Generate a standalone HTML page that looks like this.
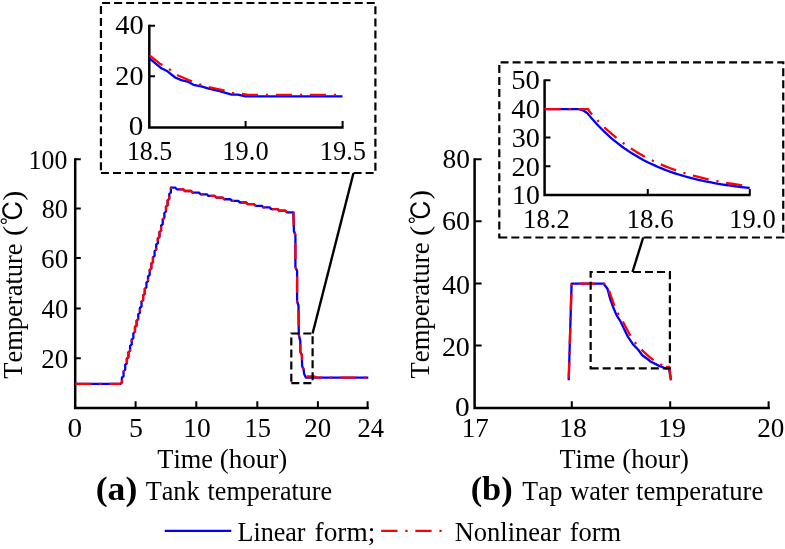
<!DOCTYPE html>
<html><head><meta charset="utf-8"><title>Tank and tap water temperature</title>
<style>
html,body{margin:0;padding:0;background:#fff;}
svg{display:block;}
text{font-family:"Liberation Serif","IPAGothic",serif;font-size:26px;fill:#000;font-kerning:none;}
.ax{stroke:#000;stroke-width:2.5;fill:none;stroke-linecap:butt;stroke-linejoin:miter;}
.tk{stroke:#000;stroke-width:2;fill:none;}
.box{stroke:#000;stroke-width:2.2;fill:none;stroke-dasharray:8 4.03;}
.ln{stroke:#000;stroke-width:2.4;fill:none;}
.b{stroke:#0000ff;stroke-width:2.3;fill:none;stroke-linejoin:round;}
.r{stroke:#ff0000;stroke-width:2.3;fill:none;stroke-dasharray:16.2 7.8 2.2 7.8;stroke-linejoin:round;}
</style></head>
<body>
<svg width="785" height="549" viewBox="0 0 785 549">
<rect width="785" height="549" fill="#fff"/>

<!-- ===== chart (a) ===== -->
<g id="a-axes">
<path class="ax" d="M75.2,158.2 V408 H368.85"/>
<path class="tk" d="M75,159.2H80.8 M75,208.5H80.8 M75,258H80.8 M75,308.5H80.8 M75,358.3H80.8"/>
<path class="tk" d="M135.6,408V401.2 M196.3,408V401.2 M257.3,408V401.2 M317.9,408V401.2 M367.6,408V401.2"/>
</g>

<!-- main curves (a) -->
<path class="b" d="M75.3,383.9 L120.3,383.9 L121.93,382.38 L121.93,377.57 L123.56,376.05 L123.56,371.24 L125.2,369.72 L125.2,364.91 L126.83,363.39 L126.83,358.58 L128.46,357.06 L128.46,352.25 L130.09,350.74 L130.09,345.93 L131.73,344.41 L131.73,339.6 L133.36,338.08 L133.36,333.27 L134.99,331.75 L134.99,326.94 L136.62,325.42 L136.62,320.61 L138.25,319.09 L138.25,314.28 L139.89,312.76 L139.89,307.95 L141.52,306.43 L141.52,301.62 L143.15,300.1 L143.15,295.29 L144.78,293.77 L144.78,288.96 L146.42,287.45 L146.42,282.64 L148.05,281.12 L148.05,276.31 L149.68,274.79 L149.68,269.98 L151.31,268.46 L151.31,263.65 L152.95,262.13 L152.95,257.32 L154.58,255.8 L154.58,250.99 L156.21,249.47 L156.21,244.66 L157.84,243.14 L157.84,238.33 L159.47,236.81 L159.47,232 L161.11,230.48 L161.11,225.67 L162.74,224.16 L162.74,219.35 L164.37,217.83 L164.37,213.02 L166,211.5 L166,206.69 L167.64,205.17 L167.64,200.36 L169.27,198.84 L169.27,194.03 L170.9,192.51 L170.9,187.7 L175.4,187.7 L176.9,189.35 L183.27,189.35 L184.77,190.99 L191.13,190.99 L192.63,192.64 L199,192.64 L200.5,194.29 L206.87,194.29 L208.37,195.93 L214.73,195.93 L216.23,197.58 L222.6,197.58 L224.1,199.23 L230.47,199.23 L231.97,200.87 L238.33,200.87 L239.83,202.52 L246.2,202.52 L247.7,204.17 L254.07,204.17 L255.57,205.81 L261.93,205.81 L263.43,207.46 L269.8,207.46 L271.3,209.11 L277.67,209.11 L279.17,210.75 L285.53,210.75 L287.03,212.4 L293.4,212.4 L293.9,231 L295.4,235 L295.4,267 L297.1,271 L297.1,301.5 L298.5,305.5 L298.8,334 L299.2,336.6 L300.3,340.9 L300.3,351.8 L301.9,355.1 L302.1,366 L303.6,369.3 L304.1,373.7 L305.5,376.9 L305.8,377.6 L368.3,377.6"/>
<path class="r" stroke-dasharray="16.2 7.8 2.2 7.8" stroke-dashoffset="0" d="M75.3,383.9 L120.3,383.9"/>
<path class="r" stroke-dasharray="16.2 7.8 2.2 7.8" stroke-dashoffset="11" d="M120.3,383.9 L121.93,382.38 L121.93,377.57 L123.56,376.05 L123.56,371.24 L125.2,369.72 L125.2,364.91 L126.83,363.39 L126.83,358.58 L128.46,357.06 L128.46,352.25 L130.09,350.74 L130.09,345.93 L131.73,344.41 L131.73,339.6 L133.36,338.08 L133.36,333.27 L134.99,331.75 L134.99,326.94 L136.62,325.42 L136.62,320.61 L138.25,319.09 L138.25,314.28 L139.89,312.76 L139.89,307.95 L141.52,306.43 L141.52,301.62 L143.15,300.1 L143.15,295.29 L144.78,293.77 L144.78,288.96 L146.42,287.45 L146.42,282.64 L148.05,281.12 L148.05,276.31 L149.68,274.79 L149.68,269.98 L151.31,268.46 L151.31,263.65 L152.95,262.13 L152.95,257.32 L154.58,255.8 L154.58,250.99 L156.21,249.47 L156.21,244.66 L157.84,243.14 L157.84,238.33 L159.47,236.81 L159.47,232 L161.11,230.48 L161.11,225.67 L162.74,224.16 L162.74,219.35 L164.37,217.83 L164.37,213.02 L166,211.5 L166,206.69 L167.64,205.17 L167.64,200.36 L169.27,198.84 L169.27,194.03 L170.9,192.51 L170.9,187.7"/>
<path class="r" stroke-dasharray="16.2 7.8 2.2 7.8" stroke-dashoffset="25.23" d="M170.9,187.7 L175.4,187.7 L176.9,189.35 L183.27,189.35 L184.77,190.99 L191.13,190.99 L192.63,192.64 L199,192.64 L200.5,194.29 L206.87,194.29 L208.37,195.93 L214.73,195.93 L216.23,197.58 L222.6,197.58 L224.1,199.23 L230.47,199.23 L231.97,200.87 L238.33,200.87 L239.83,202.52 L246.2,202.52 L247.7,204.17 L254.07,204.17 L255.57,205.81 L261.93,205.81 L263.43,207.46 L269.8,207.46 L271.3,209.11 L277.67,209.11 L279.17,210.75 L285.53,210.75 L287.03,212.4 L293.4,212.4"/>
<path class="r" stroke-dasharray="16.2 7.8 2.2 7.8" stroke-dashoffset="3.2" d="M293.4,212.4 L293.9,231 L295.4,235 L295.4,267 L297.1,271 L297.1,301.5 L298.5,305.5 L298.8,334 L299.2,336.6 L300.3,340.9 L300.3,351.8 L301.9,355.1 L302.1,366 L303.6,369.3 L304.1,373.7 L305.2,376 L306.8,376.4 L314.5,376.4 L316.7,377.6 L368.3,377.6"/>

<!-- small box (a) and connector -->
<path class="box" d="M291.3,383.1 H312.6 V333.5 H291.3 Z"/>
<path class="ln" d="M312.6,333.5 L353.5,173"/>

<!-- inset (a) -->
<path class="box" d="M100.95,173.0 H375.4 V3.0 H100.95 Z"/>
<path class="ax" d="M149.3,24.7 V127.5 H343.6"/>
<path class="tk" d="M149,25.7H155 M149,76.3H155"/>
<path class="tk" d="M245.6,127V121 M342.6,127V121"/>
<path class="b" d="M149.5,58.3 L161.4,68.3 L167.5,71.3 L175.2,77.5 L181.3,80.1 L187.4,81.6 L193.5,84.8 L201.2,86.3 L208.8,88.6 L219.5,91.2 L231.7,94.7 L237.9,94.7 L245.5,96.3 L342.5,96.3"/>
<path class="r" d="M149.5,55.3 L159.9,63.7 L168.7,68.6 L176.7,74.9 L189.7,80.5 L198.9,84.3 L208,86.9 L222.6,90 L231.7,93 L241.7,93.8 L248,94.8 L342.5,94.8"/>

<!-- ===== chart (b) ===== -->
<path class="ax" d="M474.6,158.3 V408 H769.85"/>
<path class="tk" d="M474.5,159.2H481.6 M474.5,221.3H481.6 M474.5,283.5H481.6 M474.5,345.6H481.6"/>
<path class="tk" d="M571.8,408V401.2 M670.2,408V401.2 M768.6,408V401.2"/>

<path class="b" d="M568.7,380.2 L571.6,283.6 L603.6,283.7 L607.5,288.8 L610,298.4 L613.2,307.3 L616.4,314.9 L620.8,321.9 L624.7,330.2 L627.8,336.6 L632.9,344.2 L638.2,349.8 L642.3,355.2 L646.4,358.2 L650.5,361.5 L658.7,365.6 L665.2,368.3 L669,368.6 L671,380.2"/>
<path class="r" stroke-dashoffset="-2" d="M568.7,380.2 L571.6,283.6 L604.6,283.6 L608.1,288.2 L612.9,301.6 L616.1,310.7 L621.5,319 L628.1,331.5 L632.9,340 L639.4,347.8 L650.1,357.6 L657.9,363.2 L665.5,366.8"/>
<path class="r" style="stroke-dasharray:none" d="M665.8,367 L669.4,367 L671,380.2"/>

<path class="box" d="M590.65,368.3 H669.9 V272.0 H590.65 Z"/>
<path class="ln" d="M632.5,272 L643.2,237.5"/>

<!-- inset (b) -->
<path class="box" d="M499.3,237.5 H783.25 V62.3 H499.3 Z"/>
<path class="ax" d="M544.6,79.4 V195 H750.6"/>
<path class="tk" d="M544.5,80.2H550.5 M544.5,109.1H550.5 M544.5,137.6H550.5 M544.5,166.2H550.5"/>
<path class="tk" d="M647.8,195V189 M749.8,195V189"/>
<path class="b" d="M544.6,109.1 L578.7,109.1 L583,110.3 L587.4,113.2 L590,116.36 L592.96,119.81 L595.91,123.1 L598.87,126.25 L601.83,129.26 L604.79,132.14 L607.74,134.9 L610.7,137.53 L613.66,140.05 L616.62,142.46 L619.57,144.76 L622.53,146.96 L625.49,149.07 L628.45,151.08 L631.4,153 L634.36,154.85 L637.32,156.6 L640.28,158.29 L643.23,159.9 L646.19,161.43 L649.15,162.91 L652.11,164.31 L655.06,165.66 L658.02,166.94 L660.98,168.17 L663.94,169.35 L666.89,170.47 L669.85,171.55 L672.81,172.57 L675.76,173.56 L678.72,174.5 L681.68,175.39 L684.64,176.25 L687.59,177.08 L690.55,177.86 L693.51,178.61 L696.47,179.33 L699.42,180.02 L702.38,180.67 L705.34,181.3 L708.3,181.9 L711.25,182.48 L714.21,183.02 L717.17,183.55 L720.13,184.05 L723.08,184.53 L726.04,184.99 L729,185.43 L731.96,185.85 L734.91,186.25 L737.87,186.63 L740.83,187 L743.79,187.35 L746.74,187.68 L749.7,188.01"/>
<path class="r" d="M544.6,109.1 L588.2,109.1 L589.5,111.49 L592.47,114.9 L595.43,118.18 L598.4,121.33 L601.37,124.34 L604.33,127.23 L607.3,130 L610.27,132.66 L613.23,135.22 L616.2,137.66 L619.17,140.01 L622.13,142.26 L625.1,144.42 L628.07,146.49 L631.03,148.47 L634,150.38 L636.97,152.2 L639.93,153.95 L642.9,155.63 L645.87,157.24 L648.83,158.79 L651.8,160.27 L654.77,161.69 L657.73,163.06 L660.7,164.36 L663.67,165.62 L666.63,166.82 L669.6,167.97 L672.57,169.08 L675.53,170.14 L678.5,171.16 L681.47,172.13 L684.43,173.07 L687.4,173.97 L690.37,174.83 L693.33,175.65 L696.3,176.44 L699.27,177.2 L702.23,177.93 L705.2,178.63 L708.17,179.3 L711.13,179.94 L714.1,180.56 L717.07,181.15 L720.03,181.72 L723,182.26 L725.97,182.78 L728.93,183.28 L731.9,183.76 L734.87,184.22 L737.83,184.66 L740.8,185.09 L743.77,185.49 L746.73,185.88 L749.7,186.25"/>

<!-- ===== legend ===== -->
<path class="b" d="M164.7,530.8 H231.3"/>
<path d="M381.2,530.8 H442" stroke="#ff0000" stroke-width="2.2" fill="none" stroke-dasharray="16.3 7.8 2.3 7.7"/>

<!-- ===== text ===== -->
<text transform="translate(0,168.6) scale(1,1.03)"><tspan x="28.62" textLength="38.73" lengthAdjust="spacingAndGlyphs">100</tspan></text>
<text transform="translate(0,218.2) scale(1,1.03)"><tspan x="41.7" textLength="26.25" lengthAdjust="spacingAndGlyphs">80</tspan></text>
<text transform="translate(0,267.9) scale(1,1.03)"><tspan x="41.1" textLength="27.16" lengthAdjust="spacingAndGlyphs">60</tspan></text>
<text transform="translate(0,318.4) scale(1,1.03)"><tspan x="41.56" textLength="26.64" lengthAdjust="spacingAndGlyphs">40</tspan></text>
<text transform="translate(0,367.9) scale(1,1.03)"><tspan x="41.33" textLength="27.01" lengthAdjust="spacingAndGlyphs">20</tspan></text>
<text transform="translate(0,437.4) scale(1,1.03)"><tspan x="67.6" textLength="14.62" lengthAdjust="spacingAndGlyphs">0</tspan></text>
<text transform="translate(0,437.4) scale(1,1.03)"><tspan x="128.9" textLength="13.93" lengthAdjust="spacingAndGlyphs">5</tspan></text>
<text transform="translate(0,437.4) scale(1,1.03)"><tspan x="183.26" textLength="27.54" lengthAdjust="spacingAndGlyphs">10</tspan></text>
<text transform="translate(0,437.4) scale(1,1.03)"><tspan x="244.45" textLength="26.54" lengthAdjust="spacingAndGlyphs">15</tspan></text>
<text transform="translate(0,437.4) scale(1,1.03)"><tspan x="304.35" textLength="26.91" lengthAdjust="spacingAndGlyphs">20</tspan></text>
<text transform="translate(0,437.4) scale(1,1.03)"><tspan x="357.43" textLength="26.5" lengthAdjust="spacingAndGlyphs">24</tspan></text>
<text transform="translate(0,467.6) scale(1,1.04)"><tspan x="157.36" textLength="55.72" lengthAdjust="spacingAndGlyphs">Time</tspan> <tspan x="219.74" textLength="67.47" lengthAdjust="spacingAndGlyphs">(hour)</tspan></text>
<text transform="translate(0,467.6) scale(1,1.04)"><tspan x="559.47" textLength="55.7" lengthAdjust="spacingAndGlyphs">Time</tspan> <tspan x="622.26" textLength="66.73" lengthAdjust="spacingAndGlyphs">(hour)</tspan></text>
<text transform="translate(21.7,0) rotate(-90) scale(1,1.04)"><tspan x="-378.8" textLength="135.43" lengthAdjust="spacingAndGlyphs">Temperature</tspan> <tspan x="-236.38" textLength="10.5" lengthAdjust="spacingAndGlyphs">(</tspan><tspan x="-225.33" y="1.3" textLength="26.04" lengthAdjust="spacingAndGlyphs">℃</tspan><tspan x="-200.64" y="0" textLength="10.22" lengthAdjust="spacingAndGlyphs">)</tspan></text>
<text transform="translate(429.4,0) rotate(-90) scale(1,1.04)"><tspan x="-378.39" textLength="135.92" lengthAdjust="spacingAndGlyphs">Temperature</tspan> <tspan x="-236.38" textLength="10.5" lengthAdjust="spacingAndGlyphs">(</tspan><tspan x="-224.32" y="1.3" textLength="25.41" lengthAdjust="spacingAndGlyphs">℃</tspan><tspan x="-199.54" y="0" textLength="9.39" lengthAdjust="spacingAndGlyphs">)</tspan></text>
<text transform="translate(0,500)" style="font-size:33px;font-weight:bold;"><tspan x="95.66" textLength="41.61" lengthAdjust="spacingAndGlyphs">(a)</tspan></text>
<text transform="translate(0,499.9) scale(1,1.04)"><tspan x="145.64" textLength="53.88" lengthAdjust="spacingAndGlyphs">Tank</tspan> <tspan x="207.57" textLength="124.55" lengthAdjust="spacingAndGlyphs">temperature</tspan></text>
<text transform="translate(0,500.3)" style="font-size:33px;font-weight:bold;"><tspan x="470.66" textLength="42.06" lengthAdjust="spacingAndGlyphs">(b)</tspan></text>
<text transform="translate(0,500.2) scale(1,1.04)"><tspan x="522.31" textLength="40.18" lengthAdjust="spacingAndGlyphs">Tap</tspan> <tspan x="570.22" textLength="58.61" lengthAdjust="spacingAndGlyphs">water</tspan> <tspan x="636.08" textLength="127.23" lengthAdjust="spacingAndGlyphs">temperature</tspan></text>
<text transform="translate(0,540.8) scale(1,1.04)"><tspan x="237.52" textLength="68.03" lengthAdjust="spacingAndGlyphs">Linear</tspan> <tspan x="314.61" textLength="60.68" lengthAdjust="spacingAndGlyphs">form;</tspan></text>
<text transform="translate(0,540.8) scale(1,1.04)"><tspan x="454.68" textLength="106.04" lengthAdjust="spacingAndGlyphs">Nonlinear</tspan> <tspan x="569.74" textLength="51.4" lengthAdjust="spacingAndGlyphs">form</tspan></text>
<text transform="translate(0,34.2)" style="font-size:28px;"><tspan x="115.36" textLength="28.5" lengthAdjust="spacingAndGlyphs">40</tspan></text>
<text transform="translate(0,85.3)" style="font-size:28px;"><tspan x="115.34" textLength="28.15" lengthAdjust="spacingAndGlyphs">20</tspan></text>
<text transform="translate(0,135.2)" style="font-size:28px;"><tspan x="128.83" textLength="14.58" lengthAdjust="spacingAndGlyphs">0</tspan></text>
<text transform="translate(0,160.4) scale(1,1.03)"><tspan x="126.91" textLength="45.38" lengthAdjust="spacingAndGlyphs">18.5</tspan></text>
<text transform="translate(0,160.4) scale(1,1.03)"><tspan x="222.36" textLength="46.26" lengthAdjust="spacingAndGlyphs">19.0</tspan></text>
<text transform="translate(0,160.4) scale(1,1.03)"><tspan x="319.66" textLength="46.42" lengthAdjust="spacingAndGlyphs">19.5</tspan></text>
<text transform="translate(0,168) scale(1,1.03)"><tspan x="442.55" textLength="27.43" lengthAdjust="spacingAndGlyphs">80</tspan></text>
<text transform="translate(0,229.8) scale(1,1.03)"><tspan x="441.93" textLength="27.96" lengthAdjust="spacingAndGlyphs">60</tspan></text>
<text transform="translate(0,294.3) scale(1,1.03)"><tspan x="441.93" textLength="28.04" lengthAdjust="spacingAndGlyphs">40</tspan></text>
<text transform="translate(0,356.4) scale(1,1.03)"><tspan x="441.9" textLength="27.96" lengthAdjust="spacingAndGlyphs">20</tspan></text>
<text transform="translate(0,416.1) scale(1,1.03)"><tspan x="455.11" textLength="14.72" lengthAdjust="spacingAndGlyphs">0</tspan></text>
<text transform="translate(0,437.4) scale(1,1.03)"><tspan x="461.81" textLength="27" lengthAdjust="spacingAndGlyphs">17</tspan></text>
<text transform="translate(0,437.4) scale(1,1.03)"><tspan x="559.2" textLength="27.7" lengthAdjust="spacingAndGlyphs">18</tspan></text>
<text transform="translate(0,437.4) scale(1,1.03)"><tspan x="657.97" textLength="28.03" lengthAdjust="spacingAndGlyphs">19</tspan></text>
<text transform="translate(0,437.4) scale(1,1.03)"><tspan x="757.28" textLength="27.17" lengthAdjust="spacingAndGlyphs">20</tspan></text>
<text transform="translate(0,89)" style="font-size:28px;"><tspan x="511.28" textLength="28.71" lengthAdjust="spacingAndGlyphs">50</tspan></text>
<text transform="translate(0,118.2)" style="font-size:28px;"><tspan x="511.38" textLength="28.51" lengthAdjust="spacingAndGlyphs">40</tspan></text>
<text transform="translate(0,147.2)" style="font-size:28px;"><tspan x="511.71" textLength="28.18" lengthAdjust="spacingAndGlyphs">30</tspan></text>
<text transform="translate(0,176)" style="font-size:28px;"><tspan x="511.61" textLength="28.28" lengthAdjust="spacingAndGlyphs">20</tspan></text>
<text transform="translate(0,204.3)" style="font-size:28px;"><tspan x="512.12" textLength="27.76" lengthAdjust="spacingAndGlyphs">10</tspan></text>
<text transform="translate(0,228) scale(1,1.03)"><tspan x="523.07" textLength="46.64" lengthAdjust="spacingAndGlyphs">18.2</tspan></text>
<text transform="translate(0,228) scale(1,1.03)"><tspan x="626.55" textLength="47.11" lengthAdjust="spacingAndGlyphs">18.6</tspan></text>
<text transform="translate(0,228) scale(1,1.03)"><tspan x="729.14" textLength="46.57" lengthAdjust="spacingAndGlyphs">19.0</tspan></text>
</svg>
</body></html>
